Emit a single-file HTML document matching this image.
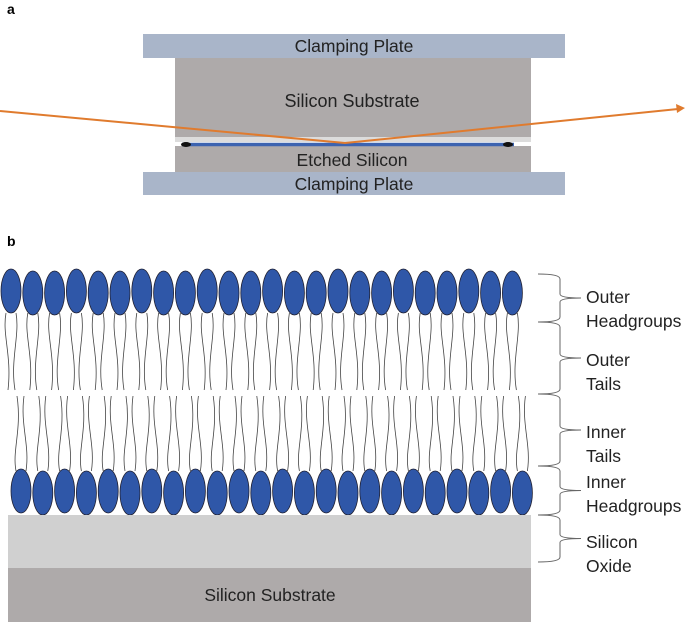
<!DOCTYPE html>
<html><head><style>
body{margin:0;background:#fff;}
svg{display:block;font-family:"Liberation Sans",Calibri,sans-serif;}
</style></head><body>
<svg id="s" width="685" height="624" viewBox="0 0 685 624">
<text x="7" y="14" font-size="14" font-weight="bold">a</text>
<rect x="143" y="34" width="422" height="24" fill="#a9b5c9"/>
<text x="354" y="52" font-size="17.5" text-anchor="middle" fill="#222">Clamping Plate</text>
<rect x="175" y="58" width="356" height="79" fill="#aeaaaa"/>
<text x="352" y="107" font-size="18" text-anchor="middle" fill="#222">Silicon Substrate</text>
<rect x="175" y="137" width="356" height="5" fill="#dcdcdc"/>
<rect x="175" y="146" width="356" height="26" fill="#aeaaaa"/>
<line x1="182" y1="144.5" x2="514" y2="144.5" stroke="#3c63b0" stroke-width="3.5"/>
<ellipse cx="186" cy="144.5" rx="5" ry="2.5" fill="#111"/>
<ellipse cx="508" cy="144.5" rx="5" ry="2.5" fill="#111"/>
<text x="352" y="166" font-size="17.5" text-anchor="middle" fill="#222">Etched Silicon</text>
<rect x="143" y="172" width="422" height="23" fill="#a9b5c9"/>
<text x="354" y="190" font-size="17.5" text-anchor="middle" fill="#222">Clamping Plate</text>
<polyline points="0,111 345,143 678,109" fill="none" stroke="#e07b2e" stroke-width="2"/>
<polygon points="685,108 676,104 677,113" fill="#e07b2e"/>
<text x="7" y="246" font-size="14" font-weight="bold">b</text>
<g id="mem"></g>
<rect x="8" y="515" width="523" height="53" fill="#d0d0d0"/>
<rect x="8" y="568" width="523" height="54" fill="#aeaaaa"/>
<text x="270" y="601" font-size="17.5" text-anchor="middle" fill="#222">Silicon Substrate</text>
<g id="br" fill="none" stroke="#666" stroke-width="1"></g>
<g font-size="17.5" fill="#222">
<text x="586" y="303">Outer</text><text x="586" y="327">Headgroups</text>
<text x="586" y="366">Outer</text><text x="586" y="390">Tails</text>
<text x="586" y="438">Inner</text><text x="586" y="462">Tails</text>
<text x="586" y="488">Inner</text><text x="586" y="512">Headgroups</text>
<text x="586" y="548">Silicon</text><text x="586" y="572">Oxide</text>
</g>
</svg>
<script>
var m=document.getElementById('mem'),h='';
for(var i=0;i<24;i++){
 var x=11+i*21.8, y=292;
 h+='<path d="M'+(x-5)+' 313 C'+(x-9)+' 335 '+(x+1)+' 355 '+(x-3)+' 390" fill="none" stroke="#444" stroke-width="0.8"/>';
 h+='<path d="M'+(x+5)+' 313 C'+(x+9)+' 335 '+(x-1)+' 360 '+(x+4)+' 390" fill="none" stroke="#444" stroke-width="0.8"/>';
 var x2=21+i*21.8;
 h+='<path d="M'+(x2-5)+' 471 C'+(x2-9)+' 450 '+(x2+1)+' 430 '+(x2-4)+' 396" fill="none" stroke="#444" stroke-width="0.8"/>';
 h+='<path d="M'+(x2+5)+' 471 C'+(x2+9)+' 445 '+(x2-1)+' 425 '+(x2+3)+' 396" fill="none" stroke="#444" stroke-width="0.8"/>';
 h+='<ellipse cx="'+x+'" cy="'+(y+(i%3?1:-1))+'" rx="10" ry="22" fill="#2f57a8" stroke="#223" stroke-width="0.8"/>';
 h+='<ellipse cx="'+x2+'" cy="'+(492+(i%2?1:-1))+'" rx="10" ry="22" fill="#2f57a8" stroke="#223" stroke-width="0.8"/>';
}
m.innerHTML=h;
var b=document.getElementById('br'),bs=[274,322,394,466,515,562],g='';
for(var j=0;j<5;j++){var a=bs[j],c=bs[j+1],mid=(a+c)/2;
g+='<path d="M538 '+a+' Q560 '+a+' 560 '+(a+5)+' L560 '+(mid-4)+' Q560 '+mid+' 581 '+mid+' Q560 '+mid+' 560 '+(mid+4)+' L560 '+(c-5)+' Q560 '+c+' 538 '+c+'"/>';}
b.innerHTML=g;
</script>
</body></html>
